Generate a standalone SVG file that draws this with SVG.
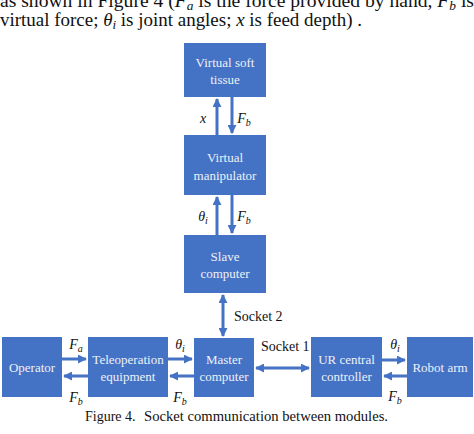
<svg xmlns="http://www.w3.org/2000/svg" width="474" height="434" viewBox="0 0 474 434">
<defs>
<style>
text{font-family:'Liberation Serif','Times New Roman','DejaVu Serif',serif;}
.box{fill:#4472c4;}
.bt{font-size:13px;fill:#eef1f8;text-anchor:middle;}
.ln{stroke:#4472c4;stroke-width:3;fill:none;}
.m{font-size:14px;font-style:italic;fill:#111;text-anchor:middle;}
.s{font-size:14px;fill:#111;}
.p{font-size:19px;fill:#111;}
</style>
<marker id="ah" viewBox="0 0 10 10" refX="9" refY="5" markerWidth="9" markerHeight="9" markerUnits="userSpaceOnUse" orient="auto-start-reverse">
<path d="M0,0 L10,5 L0,10 Z" fill="#4472c4"/>
</marker>
</defs>
<rect width="474" height="434" fill="#fff"/>
<text class="p" x="0" y="7" textLength="474" lengthAdjust="spacingAndGlyphs">as shown in Figure 4 (<tspan font-style="italic">F</tspan><tspan font-style="italic" font-size="13" dy="3">a</tspan><tspan dy="-3"> is the force provided by hand, </tspan><tspan font-style="italic">F</tspan><tspan font-style="italic" font-size="13" dy="3">b</tspan><tspan dy="-3"> is</tspan></text>
<text class="p" x="0" y="26" textLength="362" lengthAdjust="spacingAndGlyphs">virtual force; <tspan font-style="italic">θ</tspan><tspan font-style="italic" font-size="13" dy="3">i</tspan><tspan dy="-3"> is joint angles; </tspan><tspan font-style="italic">x</tspan> is feed depth) .</text>

<g id="connectors">
<path class="ln" d="M217,135 V99" marker-end="url(#ah)"/>
<path class="ln" d="M232,97 V133" marker-end="url(#ah)"/>
<path class="ln" d="M217,235 V197" marker-end="url(#ah)"/>
<path class="ln" d="M232,195 V233" marker-end="url(#ah)"/>
<path class="ln" d="M223,295 V336" marker-start="url(#ah)" marker-end="url(#ah)"/>
<path class="ln" d="M62,359 H86" marker-end="url(#ah)"/>
<path class="ln" d="M88,376 H64" marker-end="url(#ah)"/>
<path class="ln" d="M168,359 H192" marker-end="url(#ah)"/>
<path class="ln" d="M194,376 H170" marker-end="url(#ah)"/>
<path class="ln" d="M256,368 H309" marker-start="url(#ah)" marker-end="url(#ah)"/>
<path class="ln" d="M382,360 H405" marker-end="url(#ah)"/>
<path class="ln" d="M407,376 H384" marker-end="url(#ah)"/>
<text class="m" x="203" y="123">x</text>
<text class="m" x="244" y="123">F<tspan font-size="10" dy="3">b</tspan></text>
<text class="m" x="203" y="221">θ<tspan font-size="10" dy="3">i</tspan></text>
<text class="m" x="244" y="221">F<tspan font-size="10" dy="3">b</tspan></text>
<text class="s" x="234" y="321">Socket 2</text>
<text class="s" x="261" y="351">Socket 1</text>
<text class="m" x="76" y="349">F<tspan font-size="10" dy="3">a</tspan></text>
<text class="m" x="76" y="402">F<tspan font-size="10" dy="3">b</tspan></text>
<text class="m" x="180" y="349">θ<tspan font-size="10" dy="3">i</tspan></text>
<text class="m" x="180" y="402">F<tspan font-size="10" dy="3">b</tspan></text>
<text class="m" x="395" y="349">θ<tspan font-size="10" dy="3">i</tspan></text>
<text class="m" x="395" y="401">F<tspan font-size="10" dy="3">b</tspan></text>
</g>

<g id="virtual-soft-tissue"><rect class="box" x="184" y="43" width="82" height="54"/><text class="bt" x="225" y="67">Virtual soft</text><text class="bt" x="225" y="84">tissue</text></g>
<g id="virtual-manipulator"><rect class="box" x="184" y="135" width="82" height="60"/><text class="bt" x="225" y="162">Virtual</text><text class="bt" x="225" y="180">manipulator</text></g>
<g id="slave-computer"><rect class="box" x="184" y="235" width="82" height="58"/><text class="bt" x="225" y="261">Slave</text><text class="bt" x="225" y="278">computer</text></g>
<g id="master-computer"><rect class="box" x="194" y="338" width="60" height="59"/><text class="bt" x="224" y="364">Master</text><text class="bt" x="224" y="381">computer</text></g>
<g id="operator"><rect class="box" x="2" y="337" width="60" height="60"/><text class="bt" x="32" y="372">Operator</text></g>
<g id="teleoperation-equipment"><rect class="box" x="88" y="337" width="80" height="60"/><text class="bt" x="128" y="364">Teleoperation</text><text class="bt" x="128" y="381">equipment</text></g>
<g id="ur-central-controller"><rect class="box" x="311" y="337" width="71" height="60"/><text class="bt" x="346.5" y="364">UR central</text><text class="bt" x="346.5" y="381">controller</text></g>
<g id="robot-arm"><rect class="box" x="407" y="337" width="66" height="60"/><text class="bt" x="440" y="372">Robot arm</text></g>

<text class="s" x="85" y="421">Figure 4.</text>
<text class="s" x="144" y="421" textLength="244" lengthAdjust="spacingAndGlyphs">Socket communication between modules.</text>
</svg>
